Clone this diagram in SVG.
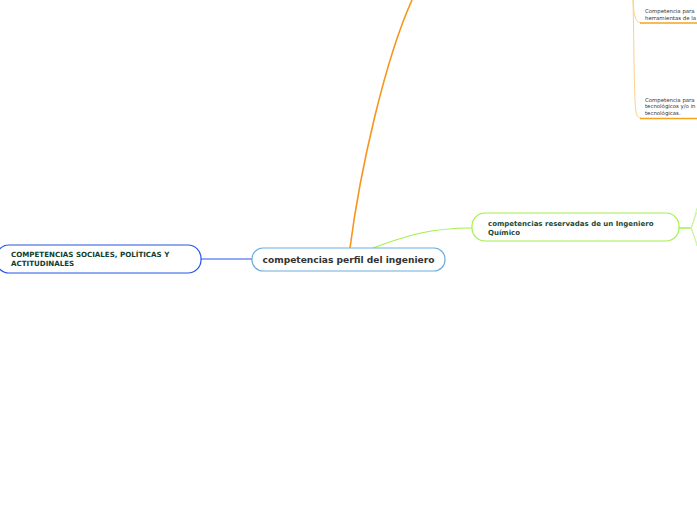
<svg xmlns="http://www.w3.org/2000/svg" width="697" height="520" viewBox="0 0 697 520">
<style>
.t{font-family:"DejaVu Sans",Verdana,sans-serif;font-weight:bold}
.s{font-family:"DejaVu Sans",Verdana,sans-serif;font-size:5.4px;fill:#333}
.lo{fill:none;stroke:#fcd08e;stroke-width:1}
.ul{fill:none;stroke:#f5a31f;stroke-width:1.5}
.lg{fill:none;stroke:#c9f59a;stroke-width:1}
</style>
<rect width="697" height="520" fill="#fff"/>
<g id="connectors">
<path d="M350,248 C360,170 385,60 412,0" fill="none" stroke="#f7961e" stroke-width="1.6"/>
<path d="M373,248 C405,236 430,228 472,228" fill="none" stroke="#a3f04c" stroke-width="1.2"/>
<path d="M201,259 L252,259" fill="none" stroke="#2456e8" stroke-width="1"/>
<path d="M679,228 L691,228" fill="none" stroke="#a3f04c" stroke-width="1.5"/>
<path class="lg" d="M691,228 C694,222 695,214 697,208"/>
<path class="lg" d="M691,228 C694,220 696,214 697,212"/>
<path class="lg" d="M691,228 C694,234 695,240 697,246"/>
<path class="lg" d="M691,228 C694,236 696,242 697,243"/>
<path class="lo" d="M633,0 C634,12 634,22 641,23"/>
<path class="lo" d="M633,0 C634,40 634,100 636,112 C637,117 639,118 641,118"/>
</g>
<g id="node-competencia-herramientas">
<text class="s" x="645" y="13">Competencia para</text>
<text class="s" x="645" y="19.5">herramientas de la</text>
<path class="ul" d="M640,23 L697,23"/>
</g>
<g id="node-competencia-tecnologicos">
<text class="s" x="645" y="101.5">Competencia para</text>
<text class="s" x="645" y="108">tecnológicos y/o in</text>
<text class="s" x="645" y="114.5">tecnológicas.</text>
<path class="ul" d="M640,118.5 L697,118.5"/>
</g>
<g id="node-central">
<rect x="252" y="248" width="193" height="23" rx="11" fill="#fff" stroke="#6aaee0" stroke-width="1.2"/>
<text class="t" x="348.5" y="263" font-size="9.1" fill="#333" text-anchor="middle">competencias perfil del ingeniero</text>
</g>
<g id="node-sociales">
<rect x="-4" y="245" width="205" height="28" rx="13" fill="#fff" stroke="#2456e8" stroke-width="1.2"/>
<text class="t" x="11" y="257" font-size="7.1" fill="#0f3d2c">COMPETENCIAS SOCIALES, POLÍTICAS Y</text>
<text class="t" x="11" y="266" font-size="7.1" fill="#0f3d2c">ACTITUDINALES</text>
</g>
<g id="node-reservadas">
<rect x="472" y="213" width="207" height="28" rx="13" fill="#fff" stroke="#a3f04c" stroke-width="1.2"/>
<text class="t" x="488" y="225.5" font-size="7" fill="#1b4a3a">competencias reservadas de un Ingeniero</text>
<text class="t" x="488" y="234.5" font-size="7" fill="#1b4a3a">Químico</text>
</g>
</svg>
